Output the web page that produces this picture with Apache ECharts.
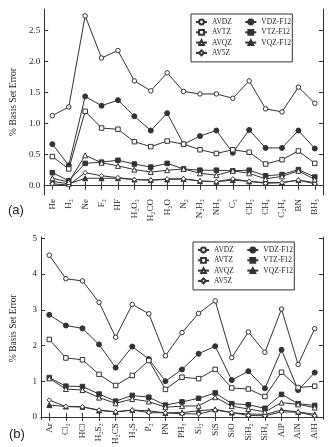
<!DOCTYPE html>
<html>
<head>
<meta charset="utf-8">
<script src="https://cdn.jsdelivr.net/npm/echarts@6/dist/echarts.min.js"></script>
<style>
  html, body { margin: 0; padding: 0; background: #fff; }
  #chart { width: 333px; height: 447px; }
</style>
</head>
<body>
<div id="chart"></div>
<script>
// series order also drives the legend: first column AV*Z, second column *-F12
var seriesNames = ['AVDZ', 'AVTZ', 'AVQZ', 'AV5Z', 'VDZ-F12', 'VTZ-F12', 'VQZ-F12'];

// panel (a)
var catsA = ['He', 'H₂', 'Ne', 'F₂', 'HF', 'H₂O₂', 'H₂CO', 'H₂O', 'N₂', 'N₂H₂', 'NH₃', 'C₂', 'CH₂', 'CH₄', 'C₂H₄', 'BN', 'BH₃'];
var avdzA = [1.13, 1.27, 2.74, 2.06, 2.18, 1.69, 1.53, 1.82, 1.52, 1.48, 1.48, 1.41, 1.69, 1.24, 1.19, 1.59, 1.33];
var avtzA = [0.47, 0.27, 1.20, 0.93, 0.91, 0.71, 0.63, 0.72, 0.67, 0.58, 0.52, 0.58, 0.54, 0.35, 0.42, 0.56, 0.36];
var avqzA = [0.12, 0.06, 0.49, 0.37, 0.32, 0.26, 0.22, 0.25, 0.27, 0.20, 0.17, 0.24, 0.20, 0.11, 0.15, 0.24, 0.10];
var av5zA = [0.03, 0.01, 0.21, 0.16, 0.13, 0.10, 0.09, 0.11, 0.11, 0.075, 0.065, 0.11, 0.07, 0.04, 0.05, 0.09, 0.03];
var vdzA = [0.67, 0.33, 1.44, 1.29, 1.38, 1.12, 0.89, 1.17, 0.67, 0.80, 0.89, 0.53, 0.90, 0.61, 0.61, 0.89, 0.60];
var vtzA = [0.21, 0.08, 0.36, 0.38, 0.41, 0.35, 0.30, 0.36, 0.27, 0.25, 0.25, 0.24, 0.25, 0.16, 0.18, 0.26, 0.14];
var vqzA = [0.07, 0.03, 0.12, 0.12, 0.12, 0.10, 0.09, 0.10, 0.11, 0.075, 0.065, 0.09, 0.07, 0.05, 0.05, 0.09, 0.05];
var ticksA = [0, 0.5, 1.0, 1.5, 2.0, 2.5];

// panel (b)
var catsB = ['Ar', 'Cl₂', 'HCl', 'H₂S₂', 'H₂CS', 'H₂S', 'P₂', 'PN', 'PH₃', 'Si₂', 'SiS', 'SiO', 'SiH₂', 'SiH₄', 'AlP', 'AlN', 'AlH'];
var avdzB = [4.53, 3.87, 3.81, 3.21, 2.23, 3.15, 2.89, 1.71, 2.36, 2.90, 3.25, 1.66, 2.38, 1.81, 3.02, 1.47, 2.47];
var avtzB = [2.17, 1.65, 1.60, 1.19, 0.88, 1.16, 1.58, 0.77, 1.11, 1.07, 1.33, 0.81, 0.78, 0.57, 1.25, 0.82, 0.86];
var avqzB = [1.08, 0.78, 0.75, 0.54, 0.38, 0.50, 0.43, 0.27, 0.30, 0.31, 0.55, 0.30, 0.22, 0.14, 0.40, 0.35, 0.26];
var av5zB = [0.47, 0.29, 0.28, 0.19, 0.14, 0.19, 0.12, 0.11, 0.09, 0.08, 0.19, 0.12, 0.04, 0.03, 0.14, 0.13, 0.03];
var vdzB = [2.86, 2.56, 2.48, 2.03, 1.38, 1.97, 1.62, 1.00, 1.33, 1.77, 1.98, 1.03, 1.28, 0.80, 1.88, 0.75, 1.24];
var vtzB = [1.10, 0.86, 0.85, 0.64, 0.44, 0.60, 0.55, 0.33, 0.42, 0.52, 0.67, 0.37, 0.34, 0.24, 0.63, 0.37, 0.32];
var vqzB = [0.33, 0.29, 0.28, 0.18, 0.14, 0.19, 0.17, 0.11, 0.12, 0.17, 0.21, 0.12, 0.08, 0.07, 0.19, 0.14, 0.07];
var ticksB = [0, 1, 2, 3, 4, 5];

var dataA = [avdzA, avtzA, avqzA, av5zA, vdzA, vtzA, vqzA];
var dataB = [avdzB, avtzB, avqzB, av5zB, vdzB, vtzB, vqzB];

// marker per series: [symbol, filled, size]
var markers = [
  ['circle', false, 4.5], ['rect', false, 4.5], ['triangle', false, 5], ['diamond', false, 4.5],
  ['circle', true, 5], ['rect', true, 4.5], ['triangle', true, 5]
];

var ink = '#333';
var serif = 'Liberation Serif';

function catAxis(cats, gridIndex, top) {
  return {
    type: 'category', gridIndex: gridIndex, data: cats, position: top ? 'top' : 'bottom',
    boundaryGap: true,
    axisLine: { lineStyle: { color: ink, width: 1 } },
    axisTick: { show: true, inside: true, length: 4, alignWithLabel: true, lineStyle: { color: ink } },
    axisLabel: { show: !top, rotate: 90, margin: 4, fontFamily: serif, fontSize: 9, color: '#222', interval: 0 }
  };
}

function valAxis(gridIndex, min, max, ticks, digits, right) {
  return {
    type: 'value', gridIndex: gridIndex, min: min, max: max, position: right ? 'right' : 'left',
    name: right ? '' : '% Basis Set Error', nameLocation: 'middle', nameGap: 23,
    nameTextStyle: { fontFamily: serif, fontSize: 9.5, color: '#222' },
    splitLine: { show: false },
    axisLine: { show: true, lineStyle: { color: ink, width: 1 } },
    axisTick: { show: true, inside: true, length: 4, customValues: ticks, lineStyle: { color: ink } },
    axisLabel: {
      show: !right, customValues: ticks, margin: 4, fontFamily: serif, fontSize: 9, color: '#222',
      formatter: function (v) { return v.toFixed(digits); }
    }
  };
}

function makeSeries(data, axisIndex) {
  return seriesNames.map(function (name, i) {
    var m = markers[i];
    return {
      name: name, type: 'line', xAxisIndex: axisIndex, yAxisIndex: axisIndex,
      data: data[i], symbol: m[0], symbolSize: m[2], showAllSymbol: true,
      lineStyle: { color: ink, width: 1 },
      itemStyle: { color: m[1] ? ink : '#fff', borderColor: ink, borderWidth: 1 },
      emphasis: { disabled: true }, z: 10 - i
    };
  });
}

// two columns: height lets 4 rows fit, the fixed text width pushes column two over
function makeLegend(left, top) {
  return {
    orient: 'vertical', left: left, top: top, height: 44,
    padding: [3.5, 0, 4.5, 4], itemGap: 1.3, itemWidth: 11, itemHeight: 6,
    borderColor: ink, borderWidth: 1, selectedMode: false,
    textStyle: { fontFamily: serif, fontSize: 7.5, lineHeight: 9, width: 31, color: '#222' },
    data: seriesNames
  };
}

var chart = echarts.init(document.getElementById('chart'));
var option = {
  animation: false,
  backgroundColor: '#fff',
  grid: [
    { left: 40, right: 10, top: 9, height: 186 },
    { left: 39, right: 10, top: 237, height: 184 }
  ],
  xAxis: [catAxis(catsA, 0, false), catAxis(catsA, 0, true), catAxis(catsB, 1, false), catAxis(catsB, 1, true)],
  yAxis: [
    valAxis(0, -0.15, 2.85, ticksA, 1, false), valAxis(0, -0.15, 2.85, ticksA, 1, true),
    valAxis(1, -0.07, 5.04, ticksB, 0, false), valAxis(1, -0.07, 5.04, ticksB, 0, true)
  ],
  legend: [makeLegend(191, 14), makeLegend(193, 242)],
  series: makeSeries(dataA, 0).concat(makeSeries(dataB, 2)),
  graphic: [
    { type: 'text', left: 8, top: 204, style: { text: '(a)', font: '13px "Liberation Sans"', fill: '#222' } },
    { type: 'text', left: 9, top: 428, style: { text: '(b)', font: '13px "Liberation Sans"', fill: '#222' } }
  ]
};
chart.setOption(option);
</script>
</body>
</html>
